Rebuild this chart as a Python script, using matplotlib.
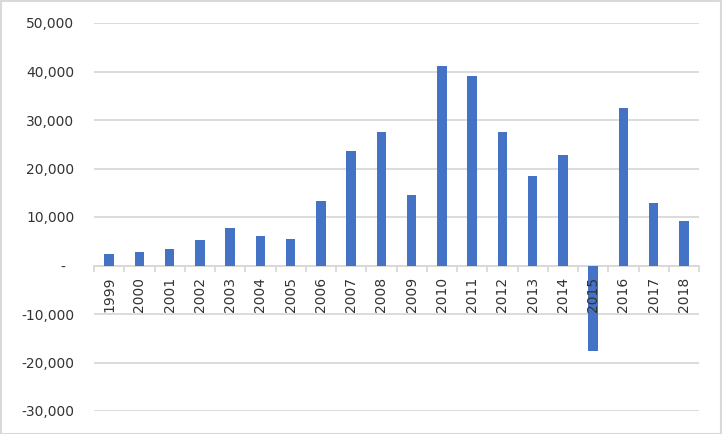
import matplotlib
matplotlib.use("Agg")
import matplotlib.pyplot as plt
from matplotlib.ticker import FuncFormatter, FixedLocator
import numpy as np

years = ["1999", "2000", "2001", "2002", "2003", "2004", "2005", "2006", "2007", "2008",
         "2009", "2010", "2011", "2012", "2013", "2014", "2015", "2016", "2017", "2018"]
values = [2300, 2700, 3300, 5200, 7700, 6000, 5400, 13400, 23700, 27600,
          14600, 41200, 39100, 27500, 18500, 22800, -17600, 32500, 12800, 9100]
y_ticks = [-30000, -20000, -10000, 0, 10000, 20000, 30000, 40000, 50000]

grid_c = "#d9d9d9"
text_c = "#333333"
bar_c = "#4472c4"

fig = plt.figure(figsize=(7.22, 4.34), dpi=100)
ax = fig.add_axes([94 / 722, 1 - 411 / 434, (699 - 94) / 722, (411 - 23) / 434])

x = np.arange(len(years))
ax.bar(x, values, width=0.31, color=bar_c, zorder=2)

ax.set_xlim(-0.5, len(years) - 0.5)
ax.set_ylim(y_ticks[0], y_ticks[-1])
ax.set_yticks(y_ticks)

def fmt(v, pos):
    if v == 0:
        return "-  "
    return f"{v:,.0f}"
ax.yaxis.set_major_formatter(FuncFormatter(fmt))
ax.tick_params(axis="y", length=0, pad=14, labelsize=10, labelcolor=text_c)
ax.grid(axis="y", color=grid_c, linewidth=1.3, zorder=0)

for s in ["top", "right", "left"]:
    ax.spines[s].set_visible(False)
ax.spines["bottom"].set_position(("data", 0))
ax.spines["bottom"].set_color(grid_c)
ax.spines["bottom"].set_linewidth(1.3)
ax.spines["bottom"].set_zorder(1)

ax.xaxis.set_major_locator(FixedLocator(np.arange(-0.5, len(years), 1.0)))
ax.xaxis.set_major_formatter(FuncFormatter(lambda v, p: ""))
ax.xaxis.set_minor_locator(FixedLocator(x))
ax.set_xticklabels(years, minor=True, rotation=90)
ax.tick_params(axis="x", which="major", length=4, color=grid_c, width=1.3)
ax.tick_params(axis="x", which="minor", length=0, pad=8, labelsize=10, labelcolor=text_c)
ax.xaxis.set_zorder(4)

fig.patches.append(plt.Rectangle((0.5 / 722, 0.5 / 434), 1 - 1.5 / 722, 1 - 1.5 / 434,
                                 transform=fig.transFigure, fill=False,
                                 edgecolor=grid_c, linewidth=1.5))

fig.savefig("out.png", dpi=100)
